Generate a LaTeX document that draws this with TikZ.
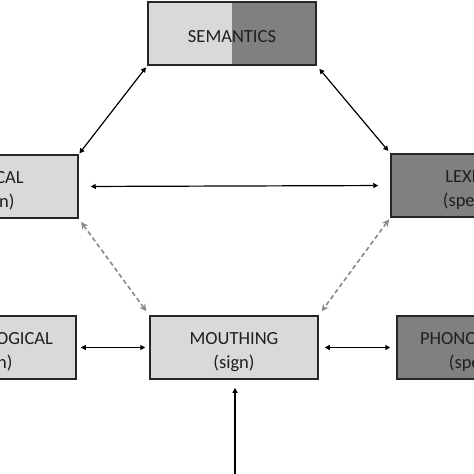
\documentclass[tikz,border=0pt]{standalone}
\usepackage{fontspec}
\setmainfont{Carlito}
\usetikzlibrary{arrows.meta}
\definecolor{lightg}{HTML}{D9D9D9}
\definecolor{darkg}{HTML}{808080}
\definecolor{edge}{HTML}{262626}
\definecolor{dashg}{HTML}{8A8A8A}
\newcommand\twolines[2]{\raisebox{-4pt}[\height][\depth]{\begin{tabular}{@{}c@{}}#1\\[1.5pt]#2\end{tabular}}}
\tikzset{
  box/.style={draw=edge, line width=1.5pt, minimum width=168pt, minimum height=63pt,
    inner sep=0pt, align=center, text=black!88, font=\fontsize{18.5}{22.5}\selectfont},
  lightbox/.style={box, fill=lightg},
  darkbox/.style={box, fill=darkg},
  halfdark/.style={path picture={\fill[darkg] (path picture bounding box.north) rectangle (path picture bounding box.south east);}},
  link/.style={draw=black, line width=1.2pt, {Triangle[length=5pt,width=5pt]}-{Triangle[length=5pt,width=5pt]}},
  dlink/.style={draw=dashg, line width=1.6pt, dash pattern=on 4.5pt off 3pt,
    {Stealth[length=7pt,width=7pt]}-{Stealth[length=7pt,width=7pt]}},
  uplink/.style={draw=black, line width=1.2pt, -{Triangle[length=5pt,width=5pt]}}
}
\begin{document}
\begin{tikzpicture}[x=1pt,y=-1pt]
\useasboundingbox (0,0) rectangle (474,474);
\fill[white] (0,0) rectangle (474,474);
\begin{scope}
\clip (0,0) rectangle (474,474);
\node[lightbox, halfdark] (sem) at (232,33.5) {\raisebox{-3pt}[\height][\depth]{SEMANTICS}};
\node[lightbox] (lexs) at (-6,186.5) {\twolines{LEXICAL}{(sign)}};
\node[darkbox] (lexp) at (475,185.5) {\twolines{LEXICAL}{(speech)}};
\node[lightbox] (mouth) at (234,347.5) {\twolines{MOUTHING}{(sign)}};
\node[lightbox] (phs) at (-8,347.5) {\twolines{PHONOLOGICAL}{(sign)}};
\node[darkbox] (php) at (481,347.5) {\twolines{PHONOLOGICAL}{(speech)}};
\coordinate (in) at (235,480);

\draw[link, shorten <=2pt, shorten >=1pt] (sem.south west) -- (lexs.north east);
\draw[link, shorten <=4pt, shorten >=3pt] (sem.south east) -- (lexp.north west);
\draw[link, shorten <=12pt, shorten >=12pt] (lexs.east) -- (lexp.west);
\draw[dlink, shorten <=4pt, shorten >=5pt] (lexs.south east) -- (mouth.north west);
\draw[dlink, shorten <=2pt, shorten >=5pt] (lexp.south west) -- (mouth.north east);
\draw[link, shorten <=4pt, shorten >=4pt] (phs.east) -- (mouth.west);
\draw[link, shorten <=6pt, shorten >=6pt] (mouth.east) -- (php.west);
\draw[uplink, shorten >=8pt] (in) -- (mouth.south -| in);
\end{scope}
\end{tikzpicture}
\end{document}
